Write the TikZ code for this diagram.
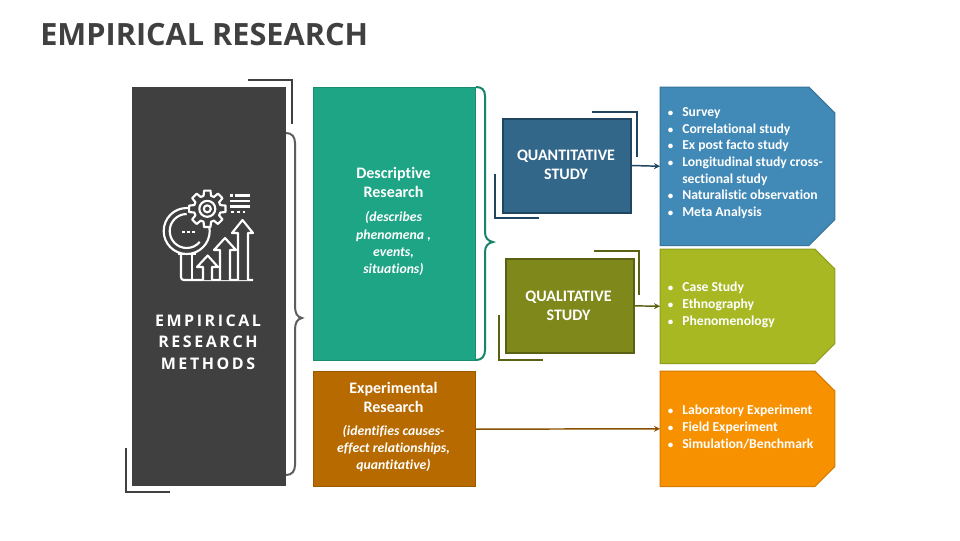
\documentclass[tikz,border=0pt]{standalone}
\usepackage{fontspec}
\setmainfont[Ligatures=NoCommon]{Carlito}
\newfontfamily\titlefont{Open Sans}
\newfontfamily\spacedfont[LetterSpace=16]{Open Sans}
\usetikzlibrary{arrows.meta}
\definecolor{dark}{HTML}{404040}
\definecolor{teal1}{HTML}{1EA585}
\definecolor{brown1}{HTML}{B66A00}
\definecolor{blue1}{HTML}{33678A}
\definecolor{blue1d}{HTML}{1F4561}
\definecolor{blue2}{HTML}{4189B6}
\definecolor{olive1}{HTML}{7F881B}
\definecolor{olive1d}{HTML}{5A6112}
\definecolor{lime1}{HTML}{A8B823}
\definecolor{orange1}{HTML}{F79100}
\tikzset{
 x=0.75pt,y=-0.75pt,
 block/.style={anchor=north west,inner sep=0pt,text=white,align=center},
 heading/.style={text=white,align=center,inner sep=0pt,font=\fontsize{12pt}{14.25pt}\selectfont\bfseries},
 subtext/.style={text=white,align=center,inner sep=0pt,font=\fontsize{10.3pt}{12.8pt}\selectfont\bfseries\itshape},
 snipnode/.style={anchor=north west,inner sep=0pt,minimum width=130.75pt},
 snipfill/.style={line width=0.75pt},
 bracket/.style={line width=1.5pt},
 listtext/.style={anchor=west,inner sep=0pt,text=white,align=left,font=\fontsize{10.25pt}{12.5pt}\selectfont\bfseries},
 link/.style={line width=1.1pt,-{Stealth[length=4.5pt,width=4.5pt]}},
 icon/.style={draw=white,line width=1.6pt,line join=round},
}
\newcommand{\dotitem}{\makebox[11.25pt][l]{\kern0.5pt\scalebox{0.8}{\textbullet}}}
\begin{document}
\begin{tikzpicture}
\useasboundingbox (0,0) rectangle (960,540);
\fill[white] (0,0) rectangle (960,540);
\node[anchor=west,inner sep=0pt,text=dark,font=\fontsize{23pt}{28pt}\titlefont\bfseries] (title) at (40,34.5) {EMPIRICAL RESEARCH};

% left panel
\node[block,fill=dark,minimum width=115.5pt,minimum height=299.25pt] (methods) at (132,87) {};
\node[text=white,align=center,inner sep=0pt,font=\fontsize{12pt}{16.1pt}\spacedfont\bfseries] (methodst) at (208,342) {EMPIRICAL\\RESEARCH\\METHODS};
\draw[bracket,draw=dark] (248,80) -- (292,80) -- (292,124);
\draw[bracket,draw=dark] (126,448) -- (126,492) -- (170,492);
\draw[bracket,draw=dark!85] (286,133) .. controls (292,133) and (295,137) .. (295,143) -- (295,306) .. controls (295,313) and (297,317) .. (302,318) .. controls (297,319) and (295,323) .. (295,330) -- (295,465) .. controls (295,471) and (292,475) .. (286,475);

% icon
\begin{scope}
 \draw[icon] (186.7,231) circle (23);
 \draw[icon] (186.7,214) arc (-90:-320:17);
 \draw[icon,dash pattern=on 2.2pt off 1.6pt] (182,232) -- (195,232);
 \draw[icon] (178,254) -- (196,254);
 \draw[icon] (192,254) -- (192,280);
 \draw[icon] (181,254) -- (181,277) .. controls (181,279) and (182,280) .. (184,280) -- (253,280);
 \draw[icon,fill=dark] (203,280) -- (203,267) -- (197,267) -- (207.7,255.5) -- (218,267) -- (212,267) -- (212,280);
 \draw[icon,fill=dark] (220,280) -- (220,250) -- (214,250) -- (225,238) -- (236,250) -- (230,250) -- (230,280);
 \draw[icon,fill=dark] (238,280) -- (238,233) -- (232,233) -- (242.5,220) -- (253,233) -- (248,233) -- (248,280);
 \begin{scope}[shift={(207.3,208.8)}]
  \draw[icon,fill=dark] (-16:13.5) \foreach \a in {0,45,...,315} { -- (\a-16:13.5) -- (\a-10:18.5) -- (\a+10:18.5) -- (\a+16:13.5) } -- cycle;
  \draw[icon] (0,0) circle (8);
  \draw[icon] (0,0) circle (3.5);
 \end{scope}
 \draw[icon] (235,195.5) -- (250,195.5);
 \draw[icon] (230,195.5) -- (232.5,195.5);
 \draw[icon] (230,201) -- (250,201);
 \draw[icon] (230,206.5) -- (250,206.5);
 \draw[icon,dash pattern=on 2pt off 2.5pt] (231,212) -- (245,212);
\end{scope}

% middle blocks
\node[block,fill=teal1,draw=teal1!85!black,line width=0.75pt,minimum width=121.5pt,minimum height=205pt] (desc) at (313,87) {};
\node[heading] (desct) at (393.5,182) {Descriptive\\Research};
\node[subtext] (descs) at (393.5,243.5) {(describes\\phenomena ,\\events,\\situations)};
\node[block,fill=brown1,draw=brown1!85!black,line width=0.75pt,minimum width=121.5pt,minimum height=86.5pt] (expt) at (313,371) {};
\node[heading] (exptt) at (393.5,397) {Experimental\\Research};
\node[subtext] (expts) at (393.5,448.5) {(identifies causes-\\effect relationships,\\quantitative)};
\draw[bracket,draw=teal1!80!black] (476,87) .. controls (482,87) and (485,90) .. (485,96) -- (485,232) .. controls (485,238) and (488,241) .. (493,242) .. controls (488,243) and (485,246) .. (485,252) -- (485,350) .. controls (485,356) and (482,360) .. (476,360);

% study blocks
\node[block,fill=blue1,draw=blue1d,line width=1.5pt,minimum width=96pt,minimum height=70.5pt] (quant) at (501.5,117.5) {};
\node[heading] (quantt) at (566,165) {QUANTITATIVE\\STUDY};
\draw[bracket,draw=blue1d] (592,112) -- (636.5,112) -- (636.5,157);
\draw[bracket,draw=blue1d] (539,218) -- (495,218) -- (495,174);
\node[block,fill=olive1,draw=olive1d,line width=1.5pt,minimum width=96pt,minimum height=71pt] (qual) at (504.5,257.5) {};
\node[heading] (qualt) at (568.5,306) {QUALITATIVE\\STUDY};
\draw[bracket,draw=olive1d] (594,251) -- (638.5,251) -- (638.5,295);
\draw[bracket,draw=olive1d] (543,360) -- (499,360) -- (499,315);

% right blocks
\node[snipnode,minimum height=118.5pt] (rb1) at (660,87) {};
\node[snipnode,minimum height=85.5pt] (rb2) at (660,249) {};
\node[snipnode,minimum height=86.25pt] (rb3) at (660,371) {};
\draw[snipfill,fill=blue2,draw=blue2!85!black] (rb1.north west) -- ([xshift=-19.5pt]rb1.north east) -- ([yshift=-19.5pt]rb1.north east) -- ([yshift=19.5pt]rb1.south east) -- ([xshift=-19.5pt]rb1.south east) -- (rb1.south west) -- cycle;
\draw[snipfill,fill=lime1,draw=lime1!85!black] (rb2.north west) -- ([xshift=-15pt]rb2.north east) -- ([yshift=-15pt]rb2.north east) -- ([yshift=15pt]rb2.south east) -- ([xshift=-15pt]rb2.south east) -- (rb2.south west) -- cycle;
\draw[snipfill,fill=orange1,draw=orange1!85!black] (rb3.north west) -- ([xshift=-15pt]rb3.north east) -- ([yshift=-15pt]rb3.north east) -- ([yshift=15pt]rb3.south east) -- ([xshift=-15pt]rb3.south east) -- (rb3.south west) -- cycle;

\node[listtext] (l1) at (667,163) {\dotitem Survey\\\dotitem Correlational study\\\dotitem Ex post facto study\\\dotitem Longitudinal study cross-\\\hphantom{\dotitem}sectional study\\\dotitem Naturalistic observation\\\dotitem Meta Analysis};
\node[listtext] (l2) at (667,305) {\dotitem Case Study\\\dotitem Ethnography\\\dotitem Phenomenology};
\node[listtext] (l3) at (667,427) {\dotitem Laboratory Experiment\\\dotitem Field Experiment\\\dotitem Simulation/Benchmark};

% connectors
\draw[link,draw=blue1d] (quant.east) -- (rb1.west);
\draw[link,draw=olive1d] (qual.east) -- (rb2.west);
\draw[link,draw=brown1!75!black] (expt.east) -- (rb3.west);
\end{tikzpicture}
\end{document}
